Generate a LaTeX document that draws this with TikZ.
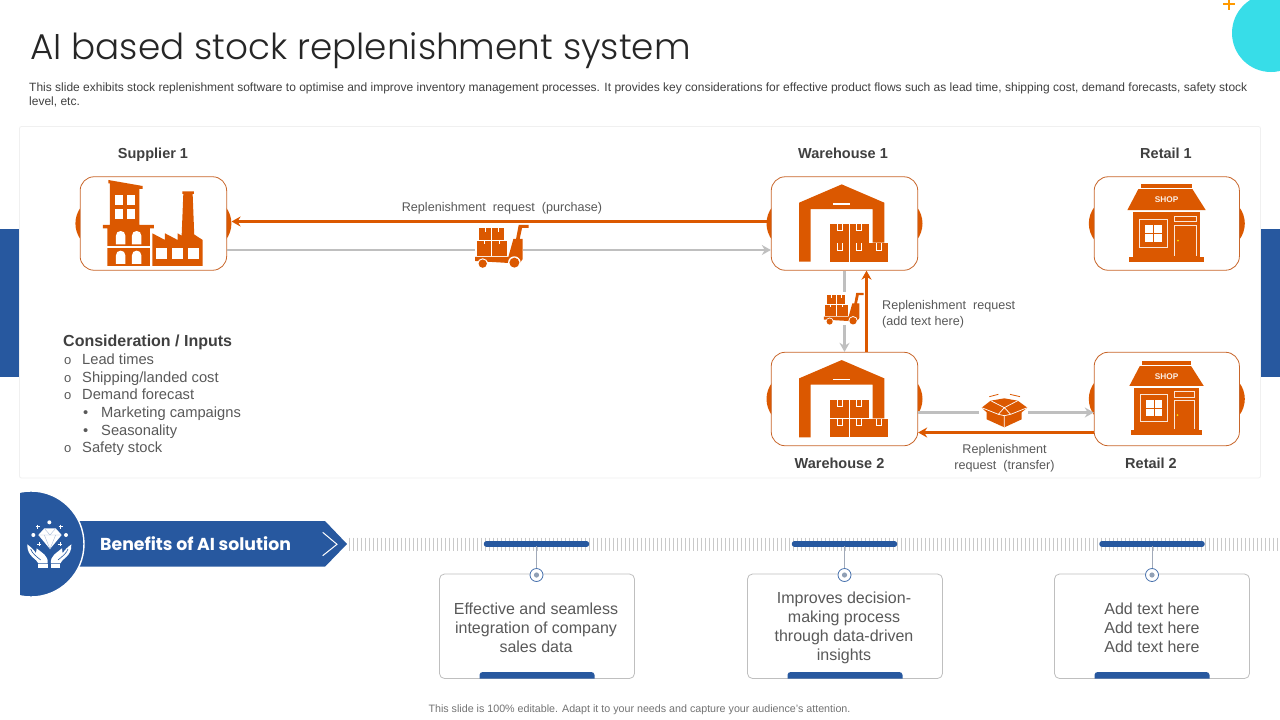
\documentclass[tikz,border=0pt]{standalone}
\usepackage{fontspec}
\setmainfont{Liberation Sans}
\newfontfamily\geo{Poppins}
\newfontfamily\geolight{Poppins Light}
\usetikzlibrary{arrows.meta}
\definecolor{org}{HTML}{DB5800}
\definecolor{orgline}{HTML}{C8662B}
\definecolor{blu}{HTML}{27589F}
\definecolor{gry}{HTML}{BFBFBF}
\definecolor{teal}{HTML}{37DDE8}
\definecolor{txt}{HTML}{595959}
\definecolor{dark}{HTML}{404040}
\tikzset{
  procbox/.style={draw=orgline,line width=.8pt,fill=white,rounded corners=14pt,minimum width=146.5pt,minimum height=93.5pt,inner sep=0pt},
  retbox/.style={procbox,minimum width=145.2pt},
  lbl/.style={text=dark,anchor=base,font=\fontsize{14.5}{16}\selectfont\bfseries},
  small/.style={text=txt,font=\fontsize{12.6}{16}\selectfont,align=center},
  listitem/.style={text=txt,anchor=base west,inner sep=0pt,font=\fontsize{14.7}{16}\selectfont},
  cardbox/.style={draw=gry,line width=.8pt,fill=white,rounded corners=5pt,minimum width=195pt,minimum height=104.5pt,inner sep=0pt},
  cardtext/.style={text=txt,align=center,font=\fontsize{16}{19}\selectfont},
  orgarrow/.style={draw=org,line width=2.6pt,-{Stealth[length=9pt,width=10pt]}},
  gryarrow/.style={draw=gry,line width=2.4pt,-{Stealth[length=9pt,width=10pt]}},
}
% a box with its two side lobes
\newcommand{\procnode}[4][procbox]{%
  \fill[org] (#3-72,#4-17) .. controls (#3-80,#4-7) and (#3-80,#4+7) .. (#3-72,#4+17) -- cycle;
  \fill[org] (#3+72,#4-17) .. controls (#3+80,#4-7) and (#3+80,#4+7) .. (#3+72,#4+17) -- cycle;
  \node[#1] (#2) at (#3,#4) {};
}
% warehouse, drawn in 3x zoom units around (281,188)
\newcommand{\whicon}[2]{%
  \begin{scope}[shift={(#1,#2)},x=.3333pt,y=-.3333pt,shift={(-281,-188)}]
    \fill[org] (147,128) -- (275,73) -- (403,128) -- (403,248) -- (368,248) -- (368,147) -- (182,147) -- (182,305) -- (147,305) -- cycle;
    \fill[white] (250,129) rectangle (300,134);
    \foreach \a/\b/\c/\d in {241/192/298/248,299/192/356/248,241/250/298/305,299/250/356/305,358/250/414/305}{
      \fill[org] (\a,\b) rectangle (\c,\d);
      \draw[white,line width=.8pt] (\a/2+\c/2-8,\b) -- (\a/2+\c/2-8,\b+20) -- (\a/2+\c/2+8,\b+20) -- (\a/2+\c/2+8,\b);
    }
  \end{scope}
}
% shop around (290,188); #3 = scale in pt per 3x-unit, #4 = label node name
\newcommand{\shopicon}[4]{%
  \begin{scope}[shift={(#1,#2)},x=#3pt,y=-#3pt,shift={(-290,-188)}]
    \fill[org] (213,72) rectangle (366,85);
    \fill[org] (205,87) -- (367,87) -- (407,150) -- (172,150) -- cycle;
    \fill[org] (188,155) rectangle (391,290);
    \fill[org] (178,290) rectangle (401,305);
    \draw[white!85!org,line width=.8pt] (208,178) rectangle (293,263);
    \fill[white] (226,195) rectangle (276,245);
    \draw[org,line width=.8pt] (251,195) -- (251,245) (226,220) -- (276,220);
    \draw[white!85!org,line width=.8pt] (314,287) -- (314,195) -- (378,195) -- (378,287);
    \draw[white!85!org,line width=.8pt] (314,168) rectangle (378,185);
    \fill[yellow!80!orange] (324,242) circle (3);
    \node[text=white!90!org,inner sep=0pt,font=\fontsize{8.3}{9}\selectfont\bfseries] (#4) at (290,120) {SHOP};
  \end{scope}
}
% cart around (125,94), 3x zoom units of the large one
\newcommand{\carticon}[3]{%
  \begin{scope}[shift={(#1,#2)},x=#3pt,y=-#3pt,shift={(-125,-94)}]
    \fill[white] (44,28) rectangle (190,160);
    \foreach \a/\b/\c/\d in {58/40/92/74,97/40/131/74,50/77/94/122,97/77/141/122}{
      \fill[org] (\a,\b) rectangle (\c,\d);
      \fill[white] (\a/2+\c/2-1.5,\b) rectangle (\a/2+\c/2+1.5,\b+10);
    }
    \fill[org] (45,126) -- (145,126) -- (160,72) -- (168,72) -- (176,30) -- (206,30) -- (206,39) -- (186,39) -- (179,72) -- (188,72) -- (188,132) -- (178,146) -- (45,138) -- cycle;
    \fill[white] (68,146) circle (16);
    \fill[white] (163,143) circle (19);
    \fill[org] (68,146) circle (12.5);
    \fill[org] (163,143) circle (15);
  \end{scope}
}
\newcommand{\archw}[2]{%
  \fill[white,shift={(#1,#2)}] (0,40) -- (0,14) .. controls (0,5) and (6,0) .. (14,0) .. controls (22,0) and (28,5) .. (28,14) -- (28,40) -- cycle;
}
\begin{document}
\begin{tikzpicture}[x=1pt,y=-1pt]
\useasboundingbox (0,0) rectangle (1280,720);
\fill[white] (0,0) rectangle (1280,720);
% corner decoration
\begin{scope}
  \clip (0,0) rectangle (1280,720);
  \fill[teal] (1271,33) circle (39);
  \draw[orange!80!yellow,line width=1.5pt] (1223,4) -- (1235,4) (1229,0) -- (1229,10);
\end{scope}
% title and description
\node[anchor=base west,inner sep=0pt,text=black!85,font=\geolight\fontsize{35.8}{40}\selectfont] (title) at (30,59) {AI based stock replenishment system};
\node[anchor=base west,inner sep=0pt,text=dark,font=\fontsize{12}{14}\selectfont] (desc1) at (29,91) {This slide exhibits stock replenishment software to optimise and improve inventory management processes. It provides key considerations for effective product flows such as lead time, shipping cost, demand forecasts, safety stock};
\node[anchor=base west,inner sep=0pt,text=dark,font=\fontsize{12}{14}\selectfont] (desc2) at (29,105) {level, etc.};
% panel and side bars
\fill[blu] (0,229) rectangle (20,377);
\fill[blu] (1260,229) rectangle (1280,377);
\draw[black!6,line width=.8pt,fill=white,rounded corners=2pt] (19.5,126.5) rectangle (1260.5,478);
% boxes
\procnode{sup}{153.4}{223.5}
\procnode{whA}{844.5}{223.5}
\procnode[retbox]{retA}{1166.8}{223.5}
\procnode{whB}{844.5}{399}
\procnode[retbox]{retB}{1166.8}{399}
% labels
\node[lbl] (lsup) at (153,158) {Supplier 1};
\node[lbl] (lwhA) at (843,158) {Warehouse 1};
\node[lbl] (lretA) at (1166,158) {Retail 1};
\node[lbl] (lwhB) at (839.5,468) {Warehouse 2};
\node[lbl] (lretB) at (1151,468) {Retail 2};
% connectors
\draw[orgarrow] ([yshift=2pt]whA.west) -- ([xshift=4.5pt,yshift=2pt]sup.east);
\draw[gryarrow] ([yshift=-26.5pt]sup.east) -- ([yshift=-26.5pt]whA.west);
\draw[gryarrow] (whA.south) -- (whB.north);
\draw[orgarrow] ([xshift=22pt]whB.north) -- ([xshift=22pt]whA.south);
\draw[gryarrow] ([yshift=-13.5pt]whB.east) -- ([yshift=-13.5pt]retB.west);
\draw[orgarrow] ([yshift=-33.5pt]retB.west) -- ([yshift=-33.5pt]whB.east);
% connector labels
\node[small] (lpurchase) at (502,208.5) {Replenishment\ \ request\ \ (purchase)};
\node[small,anchor=north west,inner sep=0pt,align=left] (ladd) at (882,300) {Replenishment\ \ request\\(add text here)};
\node[small] (ltransfer) at (1004.5,458) {Replenishment\\request\ \ (transfer)};
% factory
\begin{scope}[x=.3333pt,y=-.3333pt,yshift=-130pt]
  \fill[org] (325,150) -- (428,168) -- (428,177) -- (418,177) -- (418,285) -- (462,285) -- (462,295) -- (450,295) -- (450,408) -- (322,408) -- (322,295) -- (309,295) -- (309,285) -- (330,285) -- (330,160) -- (325,160) -- cycle;
  \fill[white] (322,349) rectangle (450,354);
  \foreach \a/\b in {345/195,381/195,345/238,381/238}{\fill[white] (\a,\b) rectangle (\a+24,\b+29);}
  \archw{348}{303}\archw{396}{303}\archw{348}{362}\archw{396}{362}
  \fill[org] (457,310) -- (495,330) -- (495,310) -- (533,330) -- (533,310) -- (545,317) -- (550,192) -- (547,192) -- (547,184) -- (582,184) -- (582,192) -- (578,192) -- (583,320) -- (570,312) -- (570,305) -- (608,330) -- (608,408) -- (457,408) -- cycle;
  \foreach \a in {468,517,564}{\fill[white] (\a,353) rectangle (\a+33,386);}
\end{scope}
% icons
\whicon{843.7}{222.7}
\whicon{843.7}{398.4}
\shopicon{1166.7}{222.7}{.3333}{shopA}
\shopicon{1166.7}{398}{.3167}{shopB}
\carticon{501.7}{246.3}{.3333}
\carticon{843.7}{308.7}{.2467}
% open box icon
\begin{scope}[shift={(970,385)},x=.3333pt,y=-.3333pt]
  \fill[white] (27,22) rectangle (175,132);
  \fill[org] (35,68) -- (62,47) -- (103,40) -- (143,47) -- (172,68) -- (155,82) -- (155,103) -- (103,127) -- (50,103) -- (50,82) -- cycle;
  \draw[white,line width=.7pt] (35,68) -- (85,88) -- (103,68) -- (122,88) -- (172,68) (62,47) -- (103,68) -- (143,47) (103,92) -- (103,127) (85,88) -- (103,92) -- (122,88);
  \draw[org,line width=.8pt] (58,35) -- (85,28) (120,28) -- (150,35);
\end{scope}
% consideration list
\node[anchor=base west,inner sep=0pt,text=dark,font=\fontsize{16}{18}\selectfont\bfseries] (chead) at (63,346.5) {Consideration / Inputs};
\foreach \n/\y/\t in {a/364/{Lead times},b/382/{Shipping/landed cost},c/399/{Demand forecast},f/452/{Safety stock}}{
  \node[listitem] (m\n) at (64,\y) {\fontsize{13}{14}\selectfont o};
  \node[listitem] (i\n) at (82,\y) {\t};
}
\foreach \n/\y/\t in {d/417/{Marketing campaigns},e/435/{Seasonality}}{
  \node[listitem] (m\n) at (83,\y) {•};
  \node[listitem] (i\n) at (101,\y) {\t};
}
% ruler
\foreach \x in {349,353,...,1279}{\draw[gry!85,line width=1pt] (\x,537.5) -- (\x,550.5);}
% banner
\fill[blu] (78,521) -- (325,521) -- (347,544) -- (325,566.7) -- (78,566.7) -- cycle;
\draw[white,line width=1pt] (322.7,532.3) -- (337,544.3) -- (322.7,555.7);
\begin{scope}
  \clip (20,480) rectangle (120,610);
  \fill[blu,draw=white,line width=1.4pt] (31,544) circle (53);
\end{scope}
\node[anchor=west,inner sep=0pt,text=white,font=\geo\fontsize{17.3}{20}\selectfont\bfseries] (bentxt) at (100,544) {Benefits of AI solution};
% hands and diamond icon
\begin{scope}[x=.3333pt,y=-.3333pt,yshift=-485pt]
  \fill[white] (115,150) -- (133,130) -- (167,130) -- (185,150) -- (150,192) -- cycle;
  \draw[blu!40,line width=.4pt] (115,150) -- (185,150) (133,130) -- (150,150) -- (167,130) (133,150) -- (150,192) -- (167,150);
  \foreach \a/\b in {148/112,100/150,198/150}{\fill[white] (\a,\b) circle (6);}
  \foreach \a/\b in {113/125,182/125,118/177,180/177}{\draw[white,line width=.7pt] (\a-6,\b) -- (\a+6,\b) (\a,\b-6) -- (\a,\b+6);}
  \fill[white] (82,178) .. controls (92,186) and (102,194) .. (108,205) -- (110,190) .. controls (125,203) and (146,212) .. (143,235) -- (115,235) .. controls (112,222) and (80,215) .. (82,178) -- cycle;
  \fill[white] (214,178) .. controls (204,186) and (194,194) .. (188,205) -- (186,190) .. controls (171,203) and (150,212) .. (153,235) -- (181,235) .. controls (184,222) and (216,215) .. (214,178) -- cycle;
  \draw[blu,line width=.6pt] (92,192) .. controls (96,205) and (110,215) .. (122,225) (204,192) .. controls (200,205) and (186,215) .. (174,225);
  \fill[white] (115,238) rectangle (143,250);
  \fill[white] (153,238) rectangle (181,250);
\end{scope}
% cards
\foreach \n/\cx/\bx in {A/537/536.5,B/845/844.5,C/1152/1152}{
  \node[cardbox] (card\n) at (\cx,626.25) {};
  \fill[blu] (\cx-57.5,678.5) -- (\cx-57.5,675) .. controls (\cx-57.5,673) and (\cx-56,672) .. (\cx-54,672) -- (\cx+54,672) .. controls (\cx+56,672) and (\cx+57.5,673) .. (\cx+57.5,675) -- (\cx+57.5,678.5) -- cycle;
  \draw[blu,line width=5.5pt,line cap=round] (\bx-50,544) -- (\bx+50,544);
  \node[circle,draw=blu!85,line width=.8pt,fill=white,minimum size=13pt,inner sep=0pt] (dot\n) at (\bx,575) {};
  \draw[gry!80!blu,line width=.8pt] (\bx,546) -- (dot\n.north);
  \fill[gry!70!blu] (dot\n.center) circle (2.6);
}
\node[cardtext] (tA) at (536,627.5) {Effective and seamless\\integration of company\\sales data};
\node[cardtext] (tB) at (844,627.5) {Improves decision-\\making process\\through data-driven\\insights};
\node[cardtext] (tC) at (1152,627.5) {Add text here\\Add text here\\Add text here};
% footer
\node[text=black!55,font=\fontsize{10.7}{12}\selectfont] (foot) at (639.5,709.5) {This slide is 100\% editable. Adapt it to your needs and capture your audience's attention.};
\end{tikzpicture}
\end{document}
